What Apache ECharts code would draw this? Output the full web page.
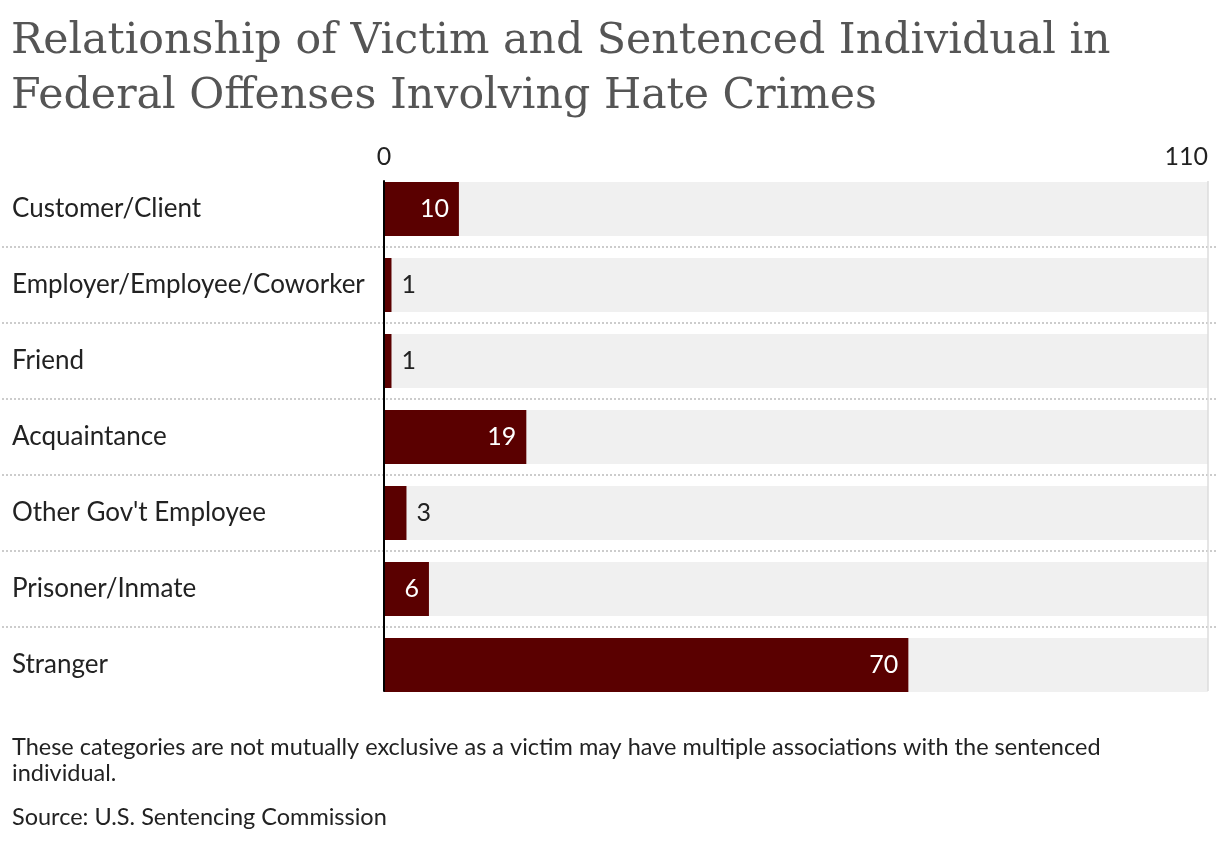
<!DOCTYPE html>
<html>
<head>
<meta charset="utf-8">
<script src="https://cdn.jsdelivr.net/npm/echarts@6/dist/echarts.min.js"></script>
<style>
  html, body { margin: 0; padding: 0; background: #fff; }
  #chart { width: 1220px; height: 842px; }
</style>
</head>
<body>
<div id="chart"></div>
<script>
const categories = [
  'Customer/Client',
  'Employer/Employee/Coworker',
  'Friend',
  'Acquaintance',
  "Other Gov't Employee",
  'Prisoner/Inmate',
  'Stranger'
]
const values = [10, 1, 1, 19, 3, 6, 70]
const axisMax = 110

const BAR = '#5a0000'
const LABEL_FONT = 'Lato'

const chart = echarts.init(document.getElementById('chart'))

// big enough bars get a white label inside, the rest a dark label outside
const barData = values.map(v => ({
  value: v,
  label: v >= 6
    ? { position: 'insideRight', color: '#fff', distance: 10 }
    : { position: 'right', color: '#222', distance: 10 }
}))

const option = {
  animation: false,
  title: [
    {
      text: 'Relationship of Victim and Sentenced Individual in\nFederal Offenses Involving Hate Crimes',
      left: 11,
      top: 14,
      padding: 0,
      textStyle: {
        fontFamily: 'DejaVu Serif',
        fontWeight: 'normal',
        fontSize: 42.7,
        lineHeight: 55,
        color: '#555'
      }
    },
    {
      text: 'These categories are not mutually exclusive as a victim may have multiple associations with the sentenced\nindividual.',
      left: 12,
      top: 734,
      padding: 0,
      textStyle: { fontFamily: LABEL_FONT, fontWeight: 'normal', fontSize: 23.5, lineHeight: 26, color: '#222' }
    },
    {
      text: 'Source: U.S. Sentencing Commission',
      left: 12,
      top: 804,
      padding: 0,
      textStyle: { fontFamily: LABEL_FONT, fontWeight: 'normal', fontSize: 23.5, lineHeight: 26, color: '#222' }
    }
  ],
  grid: [
    // bars
    { left: 384, right: 12, top: 171, height: 532 },
    // dotted row separators, full width
    { left: 2, right: 2, top: 247, height: 380 },
    // zero line, end line, top tick labels
    { left: 384, right: 12, top: 181, height: 510 }
  ],
  xAxis: [
    { gridIndex: 0, type: 'value', min: 0, max: axisMax, show: false },
    { gridIndex: 1, type: 'value', min: 0, max: 1, show: false },
    {
      gridIndex: 2,
      type: 'value',
      position: 'top',
      min: 0,
      max: axisMax,
      interval: axisMax,
      z: 10,
      axisLine: { show: false },
      axisTick: { show: false },
      axisLabel: {
        fontFamily: LABEL_FONT,
        fontSize: 25,
        color: '#222',
        margin: 12,
        alignMinLabel: 'center',
        alignMaxLabel: 'right'
      },
      splitLine: {
        show: true,
        lineStyle: { color: ['rgba(0,0,0,0)', '#dddddd'], width: 1.5 }
      }
    }
  ],
  yAxis: [
    {
      gridIndex: 0,
      type: 'category',
      data: categories,
      inverse: true,
      axisLine: { show: false },
      axisTick: { show: false },
      axisLabel: {
        fontFamily: LABEL_FONT,
        fontSize: 26,
        color: '#222',
        align: 'left',
        margin: 372
      }
    },
    {
      gridIndex: 1,
      type: 'value',
      min: 0,
      max: 5,
      interval: 1,
      axisLine: { show: false },
      axisTick: { show: false },
      axisLabel: { show: false },
      splitLine: {
        show: true,
        lineStyle: { color: '#cccccc', width: 2, type: [2, 2] }
      }
    },
    {
      gridIndex: 2,
      type: 'value',
      min: 0,
      max: 1,
      z: 10,
      axisLine: { show: true, lineStyle: { color: '#000', width: 2 } },
      axisTick: { show: false },
      axisLabel: { show: false },
      splitLine: { show: false }
    }
  ],
  series: [
    {
      type: 'bar',
      xAxisIndex: 0,
      yAxisIndex: 0,
      barWidth: 54,
      showBackground: true,
      backgroundStyle: { color: '#f0f0f0' },
      itemStyle: { color: BAR },
      label: {
        show: true,
        fontFamily: LABEL_FONT,
        fontSize: 25
      },
      data: barData
    }
  ]
}

chart.setOption(option)
</script>
</body>
</html>
